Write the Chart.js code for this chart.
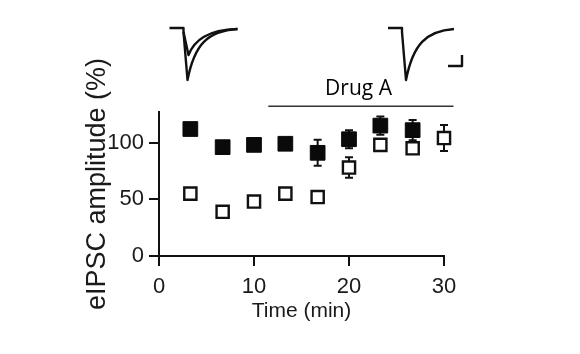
<!DOCTYPE html>
<html>
<head>
<meta charset="utf-8">
<script src="https://cdn.jsdelivr.net/npm/chart.js@4/dist/chart.umd.min.js"></script>
<style>
  body { margin: 0; background: #fff; }
  #wrap { width: 580px; height: 354px; }
</style>
</head>
<body>
<div id="wrap"><canvas id="chart" width="580" height="354"></canvas></div>
<script>
// Dados
const times = [3.3, 6.7, 10, 13.3, 16.7, 20, 23.3, 26.7, 30];
const filledValues = [112, 96, 98, 99, 91, 103, 115, 111, null];
const filledErrors = [0, 0, 0, 0, 11.5, 8, 8, 9, 0];
const openValues = [55, 39, 48, 55, 52, 78, 98, 95, 104];
const openErrors = [0, 0, 0, 0, 0, 9, 4, 4, 11.5];
const xTicks = [0, 10, 20, 30];
const yTicks = [0, 50, 100];
const drugLabel = 'Drug A';
const drugStart = 11.5, drugEnd = 31, drugLevel = 132;
// inserções de traços (posição em minutos)
const traceAnchors = [3.0, 26.0];

const ink = '#111';

function toPoints(values) {
    return times.map((t, i) => ({ x: t, y: values[i] }));
}

// Barras de erro desenhadas pelas escalas
const errorBars = {
    id: 'errorBars',
    beforeDatasetsDraw(chart) {
        const { ctx, scales: { x, y } } = chart;
        const sets = [[filledValues, filledErrors], [openValues, openErrors]];
        ctx.save();
        ctx.strokeStyle = ink;
        ctx.lineWidth = 2;
        sets.forEach(([vals, errs]) => {
            times.forEach((t, i) => {
                if (vals[i] == null || !errs[i]) return;
                const px = x.getPixelForValue(t);
                const top = y.getPixelForValue(vals[i] + errs[i]);
                const bot = y.getPixelForValue(vals[i] - errs[i]);
                ctx.beginPath();
                ctx.moveTo(px, top); ctx.lineTo(px, bot);
                ctx.moveTo(px - 4, top); ctx.lineTo(px + 4, top);
                ctx.moveTo(px - 4, bot); ctx.lineTo(px + 4, bot);
                ctx.stroke();
            });
        });
        ctx.restore();
    }
};

// Barra do fármaco e traços de exemplo
const annotations = {
    id: 'annotations',
    afterDraw(chart) {
        const { ctx, scales: { x, y } } = chart;
        ctx.save();
        const lineY = y.getPixelForValue(drugLevel);
        ctx.strokeStyle = '#333';
        ctx.lineWidth = 1.5;
        ctx.beginPath();
        ctx.moveTo(x.getPixelForValue(drugStart), lineY);
        ctx.lineTo(x.getPixelForValue(drugEnd), lineY);
        ctx.stroke();

        ctx.fillStyle = '#000';
        ctx.font = '21px "Open Sans"';
        ctx.textAlign = 'center';
        ctx.textBaseline = 'alphabetic';
        ctx.fillText(drugLabel, x.getPixelForValue(21), lineY - 11);

        // traços
        ctx.strokeStyle = ink;
        ctx.lineWidth = 2.4;
        ctx.lineJoin = 'round';
        const base = 29;
        const drawTrace = (cx, depth, tail) => {
            ctx.beginPath();
            ctx.moveTo(cx - 18, base - 1);
            ctx.lineTo(cx - 4, base - 1);
            ctx.lineTo(cx - 4, base + 3);
            ctx.lineTo(cx, base + depth);
            ctx.bezierCurveTo(cx + 7, base + depth * 0.3, cx + 20, base + 2, cx + tail, base);
            ctx.stroke();
        };
        const left = x.getPixelForValue(traceAnchors[0]);
        drawTrace(left, 51, 50);
        ctx.beginPath();
        ctx.moveTo(left - 4, base + 3);
        ctx.lineTo(left + 1, base + 26);
        ctx.bezierCurveTo(left + 7, base + 11, left + 20, base + 1, left + 50, base);
        ctx.stroke();

        const right = x.getPixelForValue(traceAnchors[1]);
        drawTrace(right, 51, 48);
        // barra de escala
        ctx.beginPath();
        ctx.moveTo(right + 42, 66);
        ctx.lineTo(right + 56, 66);
        ctx.lineTo(right + 56, 55);
        ctx.stroke();
        ctx.restore();
    }
};

const ctx = document.getElementById('chart').getContext('2d');
const chart = new Chart(ctx, {
    type: 'scatter',
    data: {
        datasets: [{
            label: 'open',
            data: toPoints(openValues),
            pointStyle: 'rect',
            pointRadius: 8.6,
            backgroundColor: '#fff',
            borderColor: ink,
            borderWidth: 2.4,
            clip: false
        }, {
            label: 'filled',
            data: toPoints(filledValues),
            pointStyle: 'rect',
            pointRadius: 10.4,
            backgroundColor: '#0a0a0a',
            borderColor: '#0a0a0a',
            borderWidth: 1,
            clip: false
        }]
    },
    options: {
        responsive: false,
        animation: false,
        layout: { padding: { left: 81, right: 136, top: 112, bottom: 0 } },
        plugins: { legend: { display: false }, tooltip: { enabled: false } },
        scales: {
            x: {
                type: 'linear',
                min: 0,
                max: 30,
                afterBuildTicks: s => { s.ticks = xTicks.map(v => ({ value: v })); },
                afterFit: s => { s.height = 98; },
                border: { display: true, color: ink, width: 2 },
                grid: { display: true, drawOnChartArea: false, drawTicks: true, tickLength: 10, color: ink, lineWidth: 2 },
                ticks: { color: '#1a1a1a', font: { family: 'Liberation Sans', size: 22 }, padding: 8, maxRotation: 0 },
                title: { display: true, text: 'Time (min)', color: '#1a1a1a', font: { family: 'Liberation Sans', size: 21 }, padding: { top: 0, bottom: 30 } }
            },
            y: {
                min: 0,
                max: 127,
                afterBuildTicks: s => { s.ticks = yTicks.map(v => ({ value: v })); },
                afterFit: s => { s.width = 78; },
                border: { display: true, color: ink, width: 2 },
                grid: { display: true, drawOnChartArea: false, drawTicks: true, tickLength: 10, color: ink, lineWidth: 2 },
                ticks: { color: '#1a1a1a', font: { family: 'Liberation Sans', size: 22 }, padding: 5 },
                title: { display: true, text: 'eIPSC amplitude (%)', color: '#1a1a1a', font: { family: 'Liberation Sans', size: 27 }, padding: 0 }
            }
        }
    },
    plugins: [errorBars, annotations]
});
</script>
</body>
</html>
